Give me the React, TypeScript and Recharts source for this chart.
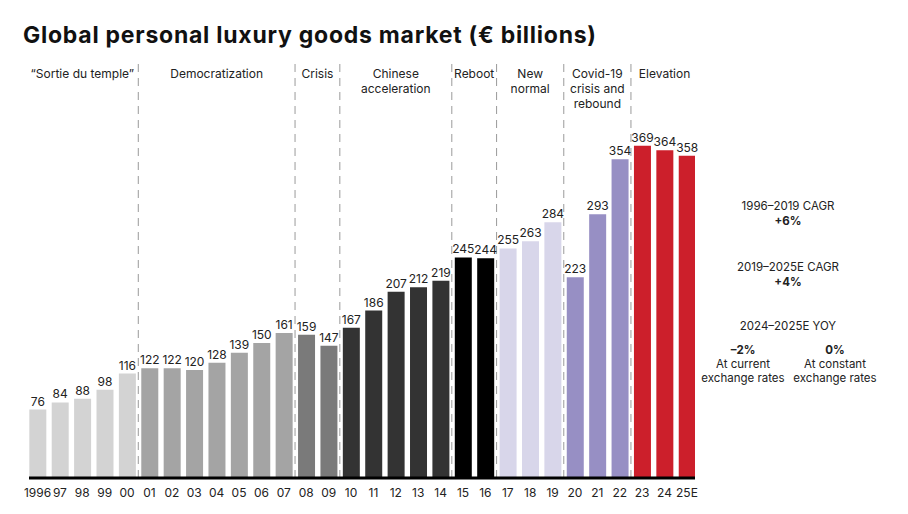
import React from "react";
import { BarChart, Bar, XAxis, YAxis, Cell, LabelList, ReferenceLine } from "recharts";

const years = ["1996","97","98","99","00","01","02","03","04","05","06","07","08","09","10","11","12","13","14","15","16","17","18","19","20","21","22","23","24","25E"];
const values = [76,84,88,98,116,122,122,120,128,139,150,161,159,147,167,186,207,212,219,245,244,255,263,284,223,293,354,369,364,358];
const eraNames = [["“Sortie du temple”"],["Democratization"],["Crisis"],["Chinese","acceleration"],["Reboot"],["New","normal"],["Covid-19","crisis and","rebound"],["Elevation"]];
const eraStart = [0,5,12,14,19,21,24,27];
const eraEnd = [4,11,13,18,20,23,26,29];
const eraColors = ["#d3d3d3","#a4a4a4","#7a7a7a","#333333","#000000","#d8d6ea","#978fc4","#cc1f2b"];

const data = years.map((y, i) => ({ idx: i, year: y, value: values[i] }));
const colorFor = (i: number) => eraColors[eraStart.filter((s) => s <= i).length - 1];

const FONT = "Inter, 'Noto Sans', sans-serif";

const EraLabel = (lines: string[]) => (props: any) => {
  const vb = props.viewBox || {};
  const x = vb.x;
  return (
    <text x={x} y={0} textAnchor="middle" fontFamily={FONT} fontSize={12} fill="#222">
      {lines.map((l, k) => (
        <tspan key={k} x={x} y={78 + k * 15}>{l}</tspan>
      ))}
    </text>
  );
};

export default function App() {
  return (
    <div style={{ position: "relative", width: 908, height: 514, fontFamily: FONT, background: "#fff" }}>
      <style>{"body{margin:0}"}</style>
      <div style={{ position: "absolute", left: 23, top: 21, fontSize: 23, fontWeight: 700, color: "#111", letterSpacing: 0.75, whiteSpace: "nowrap" }}>
        Global personal luxury goods market (€ billions)
      </div>
      <BarChart width={908} height={514} data={data} margin={{ top: 63, right: 213, bottom: 0, left: 29 }}>
        <XAxis
          dataKey="idx"
          type="number"
          domain={[-0.38, 29.36]}
          ticks={years.map((_, i) => i)}
          tickFormatter={(i: number) => years[i]}
          interval={0}
          height={36}
          axisLine={{ stroke: "#000", strokeWidth: 3 }}
          tickLine={false}
          tick={{ fontSize: 12, fill: "#222", fontFamily: FONT }}
          tickMargin={4}
          allowDataOverflow
        />
        <YAxis hide domain={[0, 461]} />
        {eraStart.slice(1).map((s, k) => (
          <ReferenceLine key={"d" + k} x={s - 0.5} stroke="#9a9a9a" strokeDasharray="8 6" strokeWidth={1} />
        ))}
        {eraNames.map((lines, k) => (
          <ReferenceLine key={"e" + k} x={(eraStart[k] + eraEnd[k]) / 2} stroke="none" label={EraLabel(lines)} />
        ))}
        <Bar dataKey="value" barSize={17} isAnimationActive={false}>
          {data.map((d, i) => (
            <Cell key={i} fill={colorFor(i)} />
          ))}
          <LabelList dataKey="value" position="top" offset={4} style={{ fontSize: 12, fill: "#222", fontFamily: FONT }} />
        </Bar>
      </BarChart>
      <div style={{ position: "absolute", left: 708, top: 199, width: 160, textAlign: "center", fontSize: 11.5, color: "#222", lineHeight: "15px" }}>
        <div>1996–2019 CAGR</div>
        <div style={{ fontWeight: 700 }}>+6%</div>
      </div>
      <div style={{ position: "absolute", left: 708, top: 260, width: 160, textAlign: "center", fontSize: 11.5, color: "#222", lineHeight: "15px" }}>
        <div>2019–2025E CAGR</div>
        <div style={{ fontWeight: 700 }}>+4%</div>
      </div>
      <div style={{ position: "absolute", left: 708, top: 319, width: 160, textAlign: "center", fontSize: 11.5, color: "#222", lineHeight: "15px" }}>
        <div>2024–2025E YOY</div>
      </div>
      <div style={{ position: "absolute", left: 693, top: 343, width: 100, textAlign: "center", fontSize: 11.5, color: "#222", lineHeight: "14px" }}>
        <div style={{ fontWeight: 700 }}>–2%</div>
        <div>At current</div>
        <div>exchange rates</div>
      </div>
      <div style={{ position: "absolute", left: 785, top: 343, width: 100, textAlign: "center", fontSize: 11.5, color: "#222", lineHeight: "14px" }}>
        <div style={{ fontWeight: 700 }}>0%</div>
        <div>At constant</div>
        <div>exchange rates</div>
      </div>
    </div>
  );
}
